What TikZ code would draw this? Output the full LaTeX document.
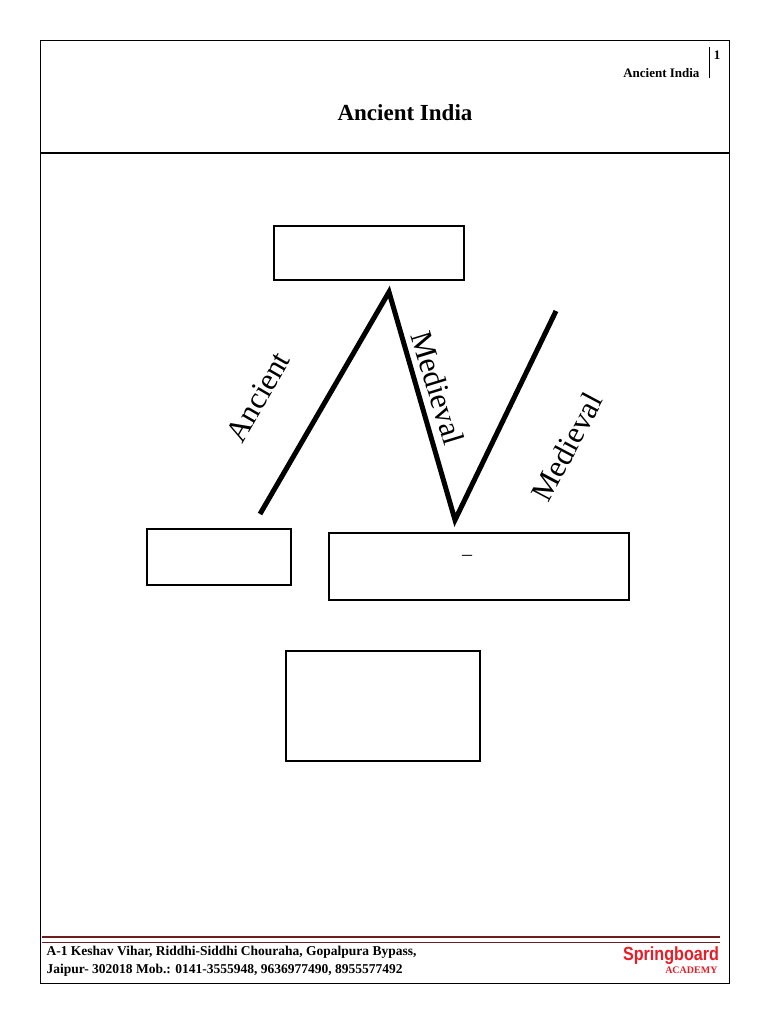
\documentclass[tikz,border=0pt]{standalone}
\usepackage{fontspec}
\setmainfont{Liberation Serif}
\newfontfamily\logofont{Liberation Sans}
\definecolor{maroon}{RGB}{110,30,35}
\definecolor{logored}{RGB}{230,30,40}
\begin{document}
\begin{tikzpicture}[x=1pt,y=-1pt,
  bx/.style={draw,line width=2pt},
  bar/.style={line width=5pt},
  lab/.style={font=\fontsize{31}{31}\selectfont}]
\useasboundingbox (0,0) rectangle (768,1024);
\fill[white] (0,0) rectangle (768,1024);
\draw[line width=1pt] (40,41) rectangle (729,983);
\draw[line width=2pt] (40,153) -- (729,153);
\node[font=\bfseries\fontsize{13}{13}\selectfont,anchor=east] (hd) at (703,73) {Ancient India};
\draw[line width=0.6pt] (709,47) -- (709,78);
\node[font=\bfseries\fontsize{13}{13}\selectfont] (pg) at (717,55) {1};
\node[font=\bfseries\fontsize{23}{23}\selectfont] (title) at (405,113) {Ancient India};
% boxes
\node[bx,minimum width=190,minimum height=54] (top) at (369,253) {};
\node[bx,minimum width=144,minimum height=56] (left) at (219,557) {};
\node[bx,minimum width=300,minimum height=67] (mid) at (479,566.5) {};
\node[font=\fontsize{20}{20}\selectfont] (dash) at (467,558) {–};
\node[bx,minimum width=194,minimum height=110] (low) at (383,706) {};
% lines
\coordinate (a1) at (260,514); \coordinate (pk) at (389,292);
\coordinate (v) at (455,520); \coordinate (e) at (556,311);
\draw[bar] (a1) -- (pk) -- (v) -- (e);
\node[lab,rotate=60] (l1) at (258,397) {Ancient};
\node[lab,rotate=-73] (l2) at (438,388) {Medieval};
\node[lab,rotate=62] (l3) at (567,447) {Medieval};
% footer
\draw[maroon,line width=2.5pt] (42,937) -- (720,937);
\draw[maroon,line width=0.8pt] (42,942) -- (720,942);
\node[font=\bfseries\fontsize{13.5}{13.5}\selectfont,anchor=west] (f1) at (43,952) {A-1 Keshav Vihar, Riddhi-Siddhi Chouraha, Gopalpura Bypass,};
\node[font=\bfseries\fontsize{13.5}{13.5}\selectfont,anchor=west] (f2) at (43,970) {Jaipur- 302018 Mob.: 0141-3555948, 9636977490, 8955577492};
\node[logored,font=\logofont\bfseries\fontsize{19}{19}\selectfont,anchor=east,xscale=0.85] (logo) at (722,956) {Springboard};
\node[logored,font=\bfseries\fontsize{10}{10}\selectfont,anchor=east] (acad) at (721,970) {ACADEMY};
\end{tikzpicture}
\end{document}
